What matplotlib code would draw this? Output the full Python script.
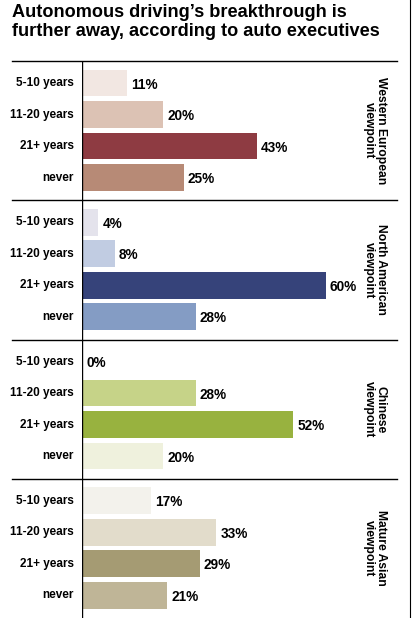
import matplotlib
matplotlib.use("Agg")
import matplotlib.pyplot as plt
import numpy as np

plt.rcParams['font.family'] = ['Liberation Sans', 'DejaVu Sans']

title = "Autonomous driving\u2019s breakthrough is\nfurther away, according to auto executives"
categories = ["5-10 years", "11-20 years", "21+ years", "never"]
regions = ["Western European\nviewpoint", "North American\nviewpoint",
           "Chinese\nviewpoint", "Mature Asian\nviewpoint"]

western = [11, 20, 43, 25]
north_american = [4, 8, 60, 28]
chinese = [0, 28, 52, 20]
mature_asian = [17, 33, 29, 21]

western_colors = ["#f2e7e2", "#dcc2b4", "#8e3b42", "#b78a76"]
north_american_colors = ["#e4e3ec", "#c1cce2", "#36437a", "#849cc4"]
chinese_colors = ["#f1f3e0", "#c6d388", "#98b23f", "#eff1dd"]
mature_asian_colors = ["#f3f2ec", "#e2dccb", "#a59b73", "#bfb597"]

all_values = [western, north_american, chinese, mature_asian]
all_colors = [western_colors, north_american_colors, chinese_colors, mature_asian_colors]

G = 4.42       # height of one group in y units
OFFSET = 0.7   # first bar centre from group top

fig = plt.figure(figsize=(4.12, 6.18), dpi=100)
ax = fig.add_axes([82/412, 0.0, 315/412, 1 - 61/618])
ax.set_xlim(0, 77.5)
ax.set_ylim(4*G, 0)

for g, (vals, cols) in enumerate(zip(all_values, all_colors)):
    ys = g*G + OFFSET + np.arange(len(vals))
    ax.barh(ys, vals, height=0.85, color=cols, left=0)
    for y, v, cat in zip(ys, vals, categories):
        ax.text(v + 1.0, y + 0.05, f"{v}%", ha='left', va='center',
                fontsize=9.8, fontweight='bold', color='black')
        ax.text(-2.0, y, cat, ha='right', va='center', fontsize=8.5,
                fontweight='bold', color='black', clip_on=False)
    ax.text(72.0, g*G + G/2, regions[g], rotation=-90, ha='center', va='center',
            multialignment='center', fontsize=8.7, fontweight='bold',
            linespacing=1.0, clip_on=False)

# separator rules
trans = ax.get_yaxis_transform()
for g in range(4):
    ax.plot([-70/315, 1.0], [g*G, g*G], color='black', lw=1.0,
            transform=trans, clip_on=False)
ax.axvline(0, color='black', lw=1.0)

for s in ax.spines.values():
    s.set_visible(False)
ax.set_xticks([])
ax.set_yticks([])

# page edge line on the right
fig.add_artist(plt.Line2D([410/412, 410/412], [0, 1], color='black', lw=0.8))

fig.text(12/412, 1 - 4/618, title, ha='left', va='top', fontsize=13.1,
         fontweight='bold', linespacing=1.12)

fig.savefig("out.png", dpi=100)
